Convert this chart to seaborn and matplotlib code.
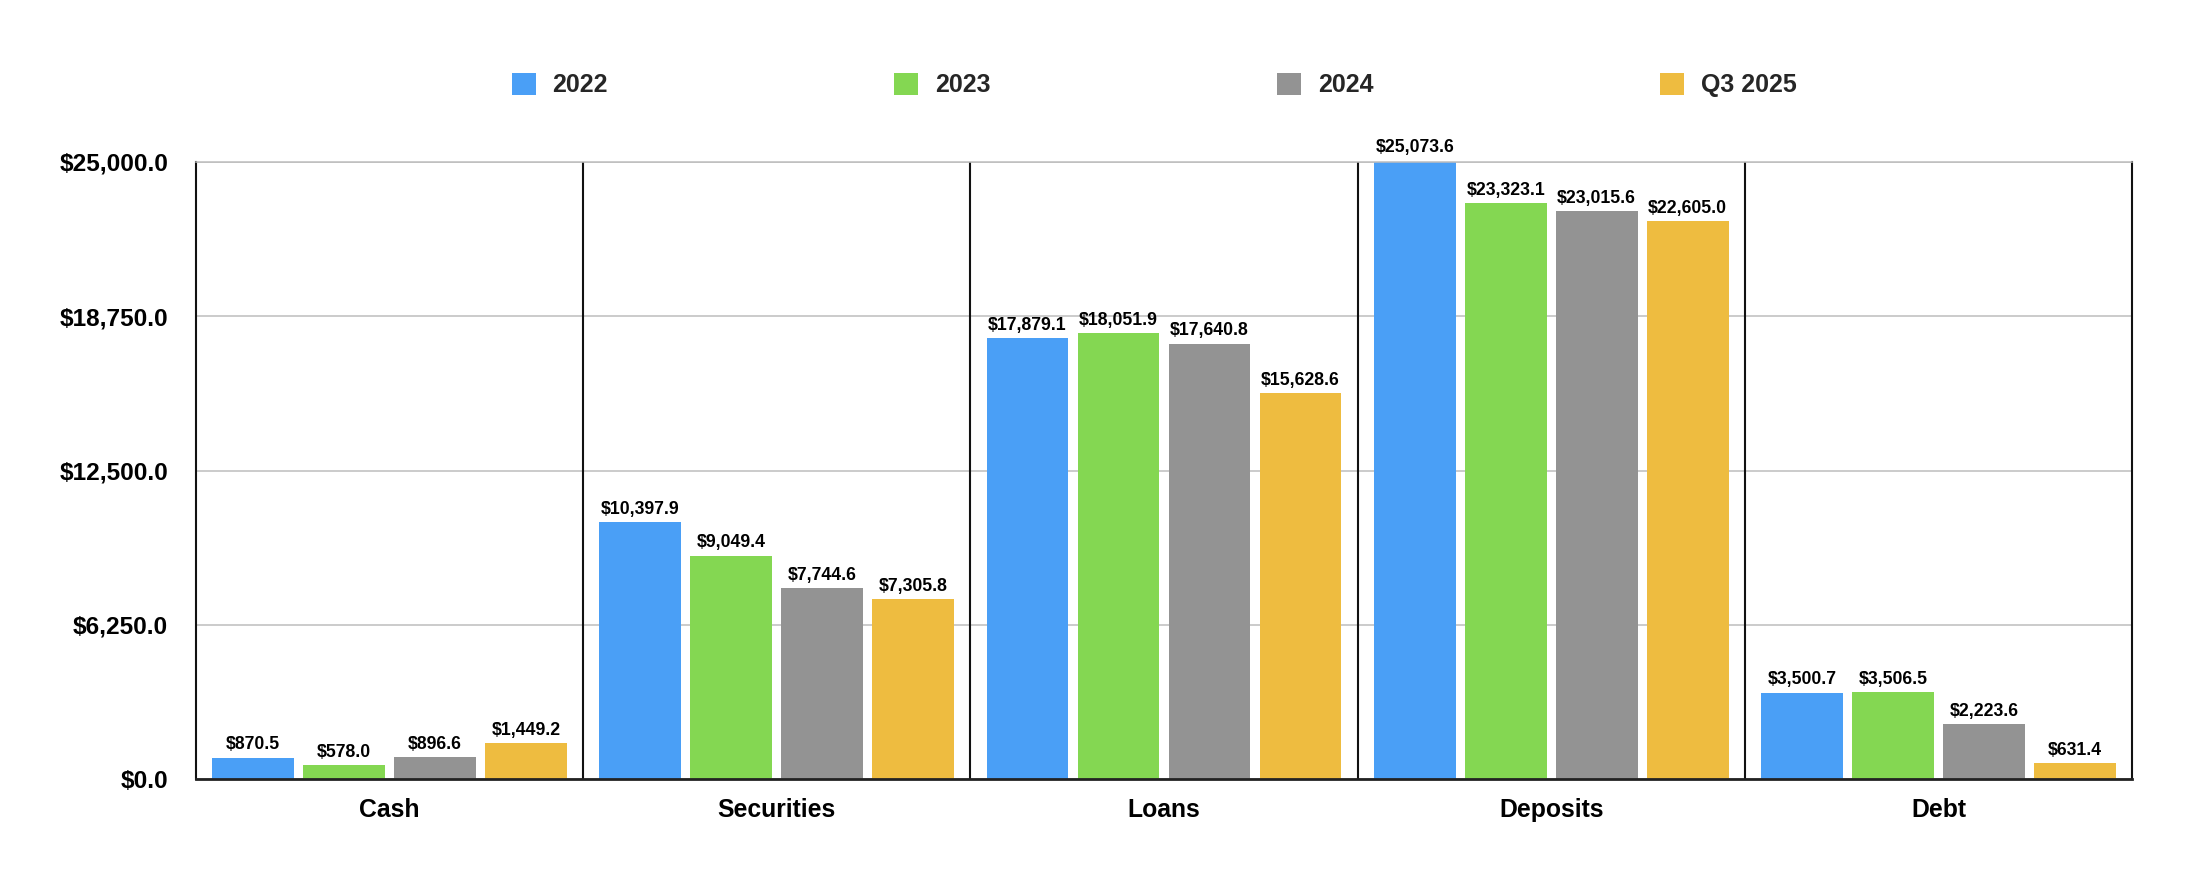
import matplotlib
matplotlib.use("Agg")
import matplotlib.pyplot as plt
from matplotlib.ticker import StrMethodFormatter
import seaborn as sns
import pandas as pd

categories = ["Cash", "Securities", "Loans", "Deposits", "Debt"]
periods = ["2022", "2023", "2024", "Q3 2025"]
values_2022 = [870.5, 10397.9, 17879.1, 25073.6, 3500.7]
values_2023 = [578.0, 9049.4, 18051.9, 23323.1, 3506.5]
values_2024 = [896.6, 7744.6, 17640.8, 23015.6, 2223.6]
values_q3_2025 = [1449.2, 7305.8, 15628.6, 22605.0, 631.4]
y_ticks = [0, 6250, 12500, 18750, 25000]

colors = ["#4A9FF6", "#84D752", "#939393", "#EEBC40"]

series = [values_2022, values_2023, values_2024, values_q3_2025]
rows = []
for p, vals in zip(periods, series):
    for c, v in zip(categories, vals):
        rows.append({"category": c, "period": p, "value": v})
df = pd.DataFrame(rows)

sns.set_theme(style="white")
plt.rcParams["font.family"] = ["Liberation Sans", "DejaVu Sans"]
plt.rcParams["font.weight"] = "bold"

fig = plt.figure(figsize=(22.1, 8.92), dpi=100)
ax = fig.add_axes([196 / 2210, 1 - 779 / 892, (2132 - 196) / 2210, (779 - 162) / 892])

sns.barplot(data=df, x="category", y="value", hue="period",
            order=categories, hue_order=periods, palette=colors,
            width=0.94, gap=0.1, linewidth=0, saturation=1,
            errorbar=None, ax=ax)

ax.set_ylim(0, 25000)
ax.set_xlim(-0.5, len(categories) - 0.5)
ax.set_yticks(y_ticks)
ax.yaxis.set_major_formatter(StrMethodFormatter("${x:,.1f}"))
ax.set_xlabel("")
ax.set_ylabel("")

ax.yaxis.grid(True, color="#BDBDBD", linewidth=1.1)
ax.xaxis.grid(False)
ax.set_axisbelow(True)

for x in range(len(categories) - 1):
    ax.axvline(x + 0.5, color="#111111", linewidth=1.5, zorder=1)

for side in ["left", "right"]:
    ax.spines[side].set_color("#111111")
    ax.spines[side].set_linewidth(1.5)
ax.spines["top"].set_color("#BDBDBD")
ax.spines["top"].set_linewidth(1.1)
ax.spines["bottom"].set_color("#222222")
ax.spines["bottom"].set_linewidth(2.0)
ax.spines["bottom"].set_zorder(5)

ax.tick_params(axis="x", length=0, pad=13.5, labelsize=17.8)
ax.tick_params(axis="y", length=0, pad=20, labelsize=17.6)
for lbl in ax.get_xticklabels() + ax.get_yticklabels():
    lbl.set_fontweight("bold")
    lbl.set_color("black")

for cont in ax.containers:
    ax.bar_label(cont, fmt="${:,.1f}", padding=3, fontsize=12.7,
                 fontweight="bold", color="black", annotation_clip=False)

handles, labels = ax.get_legend_handles_labels()
if ax.get_legend() is not None:
    ax.get_legend().remove()
fig.legend(handles, labels, loc="center", bbox_to_anchor=(1154 / 2210, 1 - 85 / 892),
           ncol=4, frameon=False, prop={"weight": "bold", "size": 18},
           handlelength=0.96, handleheight=1.0, handletextpad=0.68,
           columnspacing=11.45, borderpad=0)

fig.savefig("out.png", dpi=100, facecolor="white")
